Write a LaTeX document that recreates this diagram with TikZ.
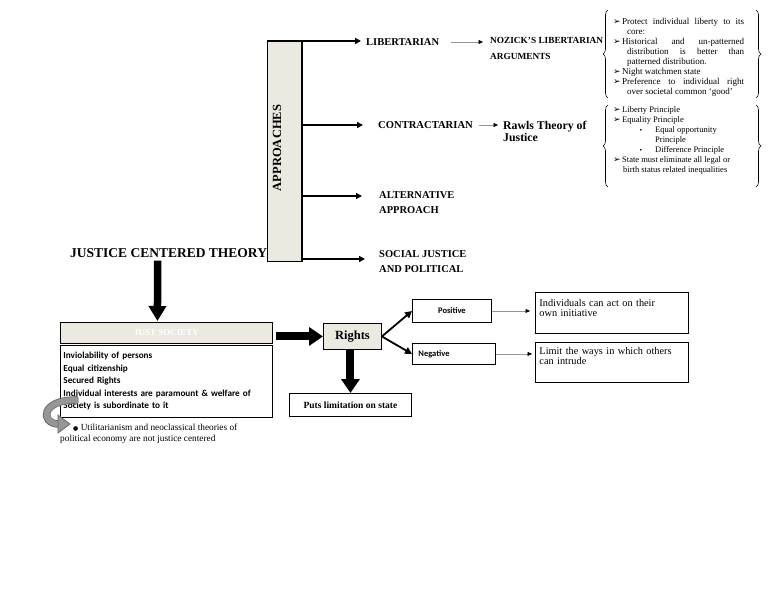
\documentclass[tikz,border=0pt]{standalone}
\usepackage{fontspec}
\setmainfont{Liberation Serif}
\newfontfamily\calib{Carlito}
\newfontfamily\djv{DejaVu Sans}
\usetikzlibrary{arrows.meta,decorations.pathreplacing,calc}
\definecolor{beige}{RGB}{236,233,224}
\definecolor{lgray}{RGB}{150,150,150}
\newcommand\fsz[2]{\fontsize{#1}{#2}\selectfont}
\newcommand\bul{\makebox[9pt][l]{\djv\fsz{9}{8}➢}}
\newcommand\sbul{\hspace*{26pt}\makebox[16pt][l]{\djv\fsz{6}{8}•}}
\begin{document}
\begin{tikzpicture}[x=1pt,y=-1pt,
  hdr/.style={font=\bfseries\fsz{10.5}{14.5}, inner sep=0pt, anchor=west, align=left},
  bigarrow/.style={line width=8pt,-{Triangle[length=14pt,width=18pt]}},
  brarrow/.style={line width=1.8pt,-{Triangle[length=6pt,width=6pt]}},
  midarrow/.style={line width=1.8pt,-{Triangle[length=7pt,width=7pt]}},
  thinarrow/.style={draw=lgray,line width=0.6pt,-{Triangle[length=4.5pt,width=4pt,color=black]}},
  box/.style={draw,line width=0.9pt},
  brc/.style={decorate,decoration={brace,amplitude=5pt},line width=0.6pt}
]
\useasboundingbox (0,0) rectangle (768,594);
\fill[white] (0,0) rectangle (768,594);

% ---------- approaches ----------
\node[box, fill=beige, minimum width=34pt, minimum height=220pt, anchor=north west, inner sep=0pt] (app) at (267,41) {};
\node[rotate=90, font=\bfseries\fsz{12.5}{14}, inner sep=0pt] (apptxt) at (277,148) {APPROACHES};

\node[hdr] (lib) at (366,42) {LIBERTARIAN};
\node[hdr, font=\bfseries\fsz{9.3}{16}, anchor=north west] (noz) at (490,37.5) {NOZICK'S LIBERTARIAN\\ARGUMENTS};
\node[hdr, font=\bfseries\fsz{10.6}{12}] (contr) at (378,125) {CONTRACTARIAN};
\node[hdr, font=\bfseries\fsz{11.8}{12}, anchor=north west] (rawls) at (503,121) {Rawls Theory of\\Justice};
\node[hdr, anchor=north west] (alt) at (379,191.5) {ALTERNATIVE\\APPROACH};
\node[hdr, anchor=north west] (soc) at (379,250.5) {SOCIAL JUSTICE\\AND POLITICAL};

\draw[brarrow, shorten >=5pt] (app.north west) -- (app.north west -| lib.west);
\draw[line width=2.2pt] (app.north east) -- (app.south east);
\draw[brarrow, shorten >=15pt] (app.east |- contr.west) -- (contr.west);
\draw[brarrow] (app.east |- 0,196) -- ($(alt.north west)+(-17,4.5)$);
\draw[brarrow] (app.east |- 0,259) -- ($(soc.north west)+(-14,8.5)$);
\draw[thinarrow, shorten <=12pt, shorten >=7pt] (lib.east) -- (lib.east -| noz.west);
\draw[thinarrow, shorten <=6pt, shorten >=5pt] (contr.east) -- (contr.east -| rawls.west);

% ---------- brace blocks ----------
\node[anchor=north west, inner sep=0pt, align=left, font=\fsz{9}{10}] (b1) at (613,18) {%
\bul\makebox[122pt][s]{Protect individual liberty to its}\\
\hspace*{14pt}core:\\
\bul\makebox[122pt][s]{Historical and un-patterned}\\
\hspace*{14pt}\makebox[117pt][s]{distribution is better than}\\
\hspace*{14pt}patterned distribution.\\
\bul Night watchmen state\\
\bul\makebox[122pt][s]{Preference to individual right}\\
\hspace*{14pt}over societal common ‘good’};
\draw[brc] (608,98) -- (608,10);
\draw[brc] (756,10) -- (756,98);

\node[anchor=north west, inner sep=0pt, align=left, font=\fsz{8.5}{10}] (b2) at (613,106) {%
\bul Liberty Principle\\
\bul Equality Principle\\
\sbul Equal opportunity\\
\hspace*{42pt}Principle\\
\sbul Difference Principle\\
\bul State must eliminate all legal or\\
\hspace*{10pt}birth status related inequalities};
\draw[brc] (608,187) -- (608,105);
\draw[brc] (756,105) -- (756,187);

% ---------- justice centered theory ----------
\node[hdr, font=\bfseries\fsz{13.5}{15}] (jct) at (70,253) {JUSTICE CENTERED THEORY};
\node[box, fill=beige, minimum width=212pt, minimum height=21pt, anchor=north west, font=\bfseries\fsz{9}{10}, text=white] (js) at (60,322) {JUST SOCIETY};
\draw[bigarrow, line width=7.5pt, -{Triangle[length=15pt,width=17pt]}] ($(jct.south)+(-11,3)$) -- ($(js.north)+(-9,-1)$);

\node[box, anchor=north west, text width=206pt, minimum height=72pt, align=left, inner sep=3pt, font=\calib\bfseries\fsz{9.2}{12.5}] (cont) at (60,345) {Inviolability of persons\\Equal citizenship\\Secured Rights\\Individual interests are paramount \& welfare of\\Society is subordinate to it};

% curved arrow
\draw[line width=7.5pt, draw=black!60] (78,400) .. controls (40,399) and (40,424) .. (59,424);
\draw[line width=6pt, lgray] (78.6,400) .. controls (40,399) and (40,424) .. (59.6,424);
\filldraw[fill=lgray, draw=black!60, line width=0.7pt] (58,415) -- (70,424) -- (58,433) -- cycle;

\node[anchor=north west, inner sep=0pt, align=left, font=\fsz{9.3}{11}] (util) at (60,423.5) {\hspace*{13pt}{\djv\fsz{6}{8}●}\ Utilitarianism and neoclassical theories of\\political economy are not justice centered};

% ---------- rights ----------
\node[box, fill=beige, minimum width=58pt, minimum height=26pt, anchor=north west, font=\bfseries\fsz{12.5}{14}] (rights) at (323,323) {Rights};
\node[box, minimum width=122pt, minimum height=23pt, anchor=north west, font=\bfseries\fsz{9.5}{11}] (puts) at (289,393) {Puts limitation on state};
\draw[bigarrow, shorten <=3pt] (js.east |- rights.west) -- (rights.west);
\draw[bigarrow] (rights.south -| puts.north) -- (puts.north);

\node[box, minimum width=79pt, minimum height=23pt, anchor=north west, font=\calib\bfseries\fsz{8.5}{10}] (pos) at (412,299) {Positive};
\node[box, minimum height=21pt, text width=71pt, inner xsep=6pt, align=left, anchor=north west, font=\calib\bfseries\fsz{8.5}{10}] (neg) at (412,343) {Negative};
\draw[midarrow] (rights.east) -- (pos.west);
\draw[midarrow] (rights.east) -- (neg.west);

\node[box, anchor=north west, text width=145pt, align=left, inner xsep=4pt, inner ysep=6.5pt, font=\fsz{10.3}{10.5}] (ind) at (535,292) {Individuals can act on their\\own initiative\rule[-10pt]{0pt}{10pt}};
\node[box, anchor=north west, text width=145pt, align=left, inner xsep=4pt, inner ysep=5pt, font=\fsz{10.3}{10}] (lim) at (535,342) {Limit the ways in which others\\can intrude\rule[-13pt]{0pt}{13pt}};
\draw[thinarrow, shorten >=5pt] (pos.east) -- (ind.west |- pos.east);
\draw[thinarrow, shorten >=3pt] (neg.east) -- (lim.west |- neg.east);
\end{tikzpicture}
\end{document}
